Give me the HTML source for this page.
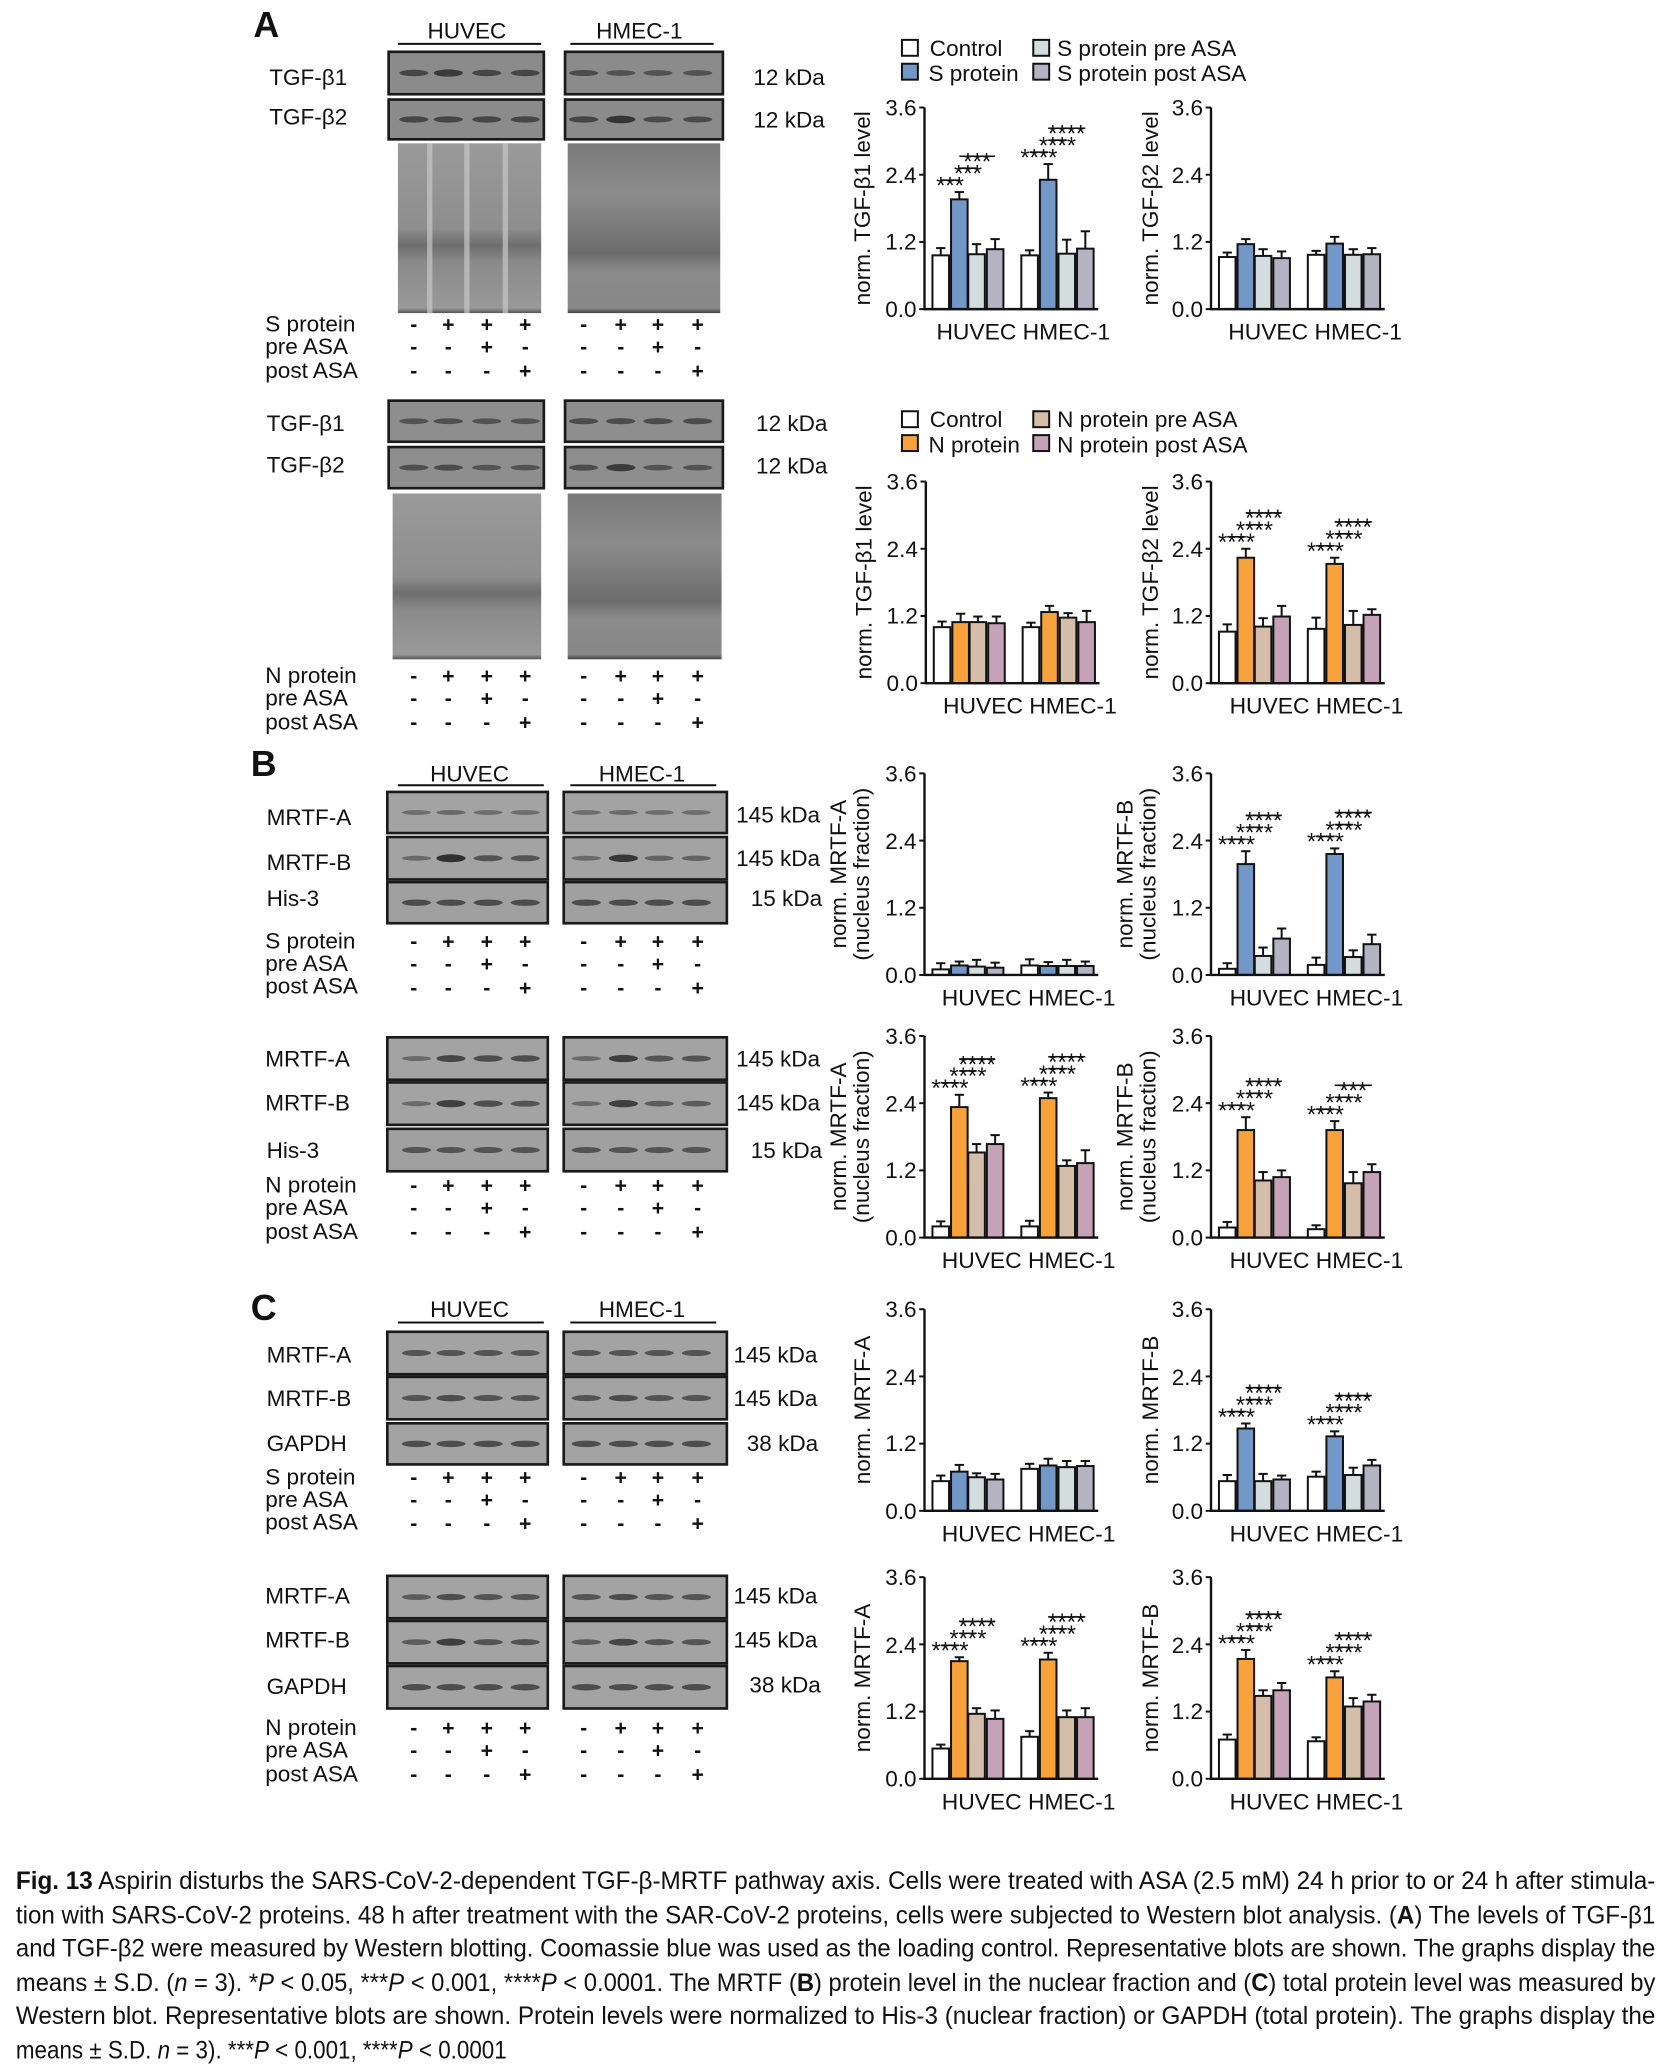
<!DOCTYPE html>
<html><head><meta charset="utf-8"><style>
html,body{margin:0;padding:0;background:#fff}
svg{display:block}
text{font-family:"Liberation Sans",Arial,sans-serif;fill:#111}
.t{font-size:17px}
.s{font-size:16px}
.cap{font-size:18.5px}
</style></head><body>
<svg id="fig" xmlns="http://www.w3.org/2000/svg" width="1658" height="2068" viewBox="0 0 1250 1559">
<defs>
<linearGradient id="cA" x1="0" y1="0" x2="0" y2="1">
<stop offset="0" stop-color="#9a9a9a"/><stop offset="0.5" stop-color="#8e8e8e"/><stop offset="0.6" stop-color="#6e6e6e"/><stop offset="0.7" stop-color="#8a8a8a"/><stop offset="0.97" stop-color="#999"/><stop offset="1" stop-color="#555"/></linearGradient>
<linearGradient id="cB" x1="0" y1="0" x2="0" y2="1">
<stop offset="0" stop-color="#7a7a7a"/><stop offset="0.3" stop-color="#8c8c8c"/><stop offset="0.65" stop-color="#6c6c6c"/><stop offset="0.75" stop-color="#8a8a8a"/><stop offset="0.97" stop-color="#888"/><stop offset="1" stop-color="#444"/></linearGradient>
</defs>
<g id="blots"></g>
<g id="charts"></g>

<text x="191" y="28" style="font-size:27px;font-weight:bold">A</text>
<text x="189" y="585" style="font-size:27px;font-weight:bold">B</text>
<text x="189" y="995" style="font-size:27px;font-weight:bold">C</text>

<g class="t">
<text x="352" y="29" text-anchor="middle">HUVEC</text>
<text x="482" y="29" text-anchor="middle">HMEC-1</text>
<text x="203" y="64">TGF-β1</text><text x="203" y="94">TGF-β2</text>
<text x="568" y="64">12 kDa</text><text x="568" y="96">12 kDa</text>
<text x="200" y="250">S protein</text><text x="200" y="267">pre ASA</text><text x="200" y="285">post ASA</text>
<text x="201" y="325">TGF-β1</text><text x="201" y="356">TGF-β2</text>
<text x="570" y="325">12 kDa</text><text x="570" y="357">12 kDa</text>
<text x="200" y="515">N protein</text><text x="200" y="532">pre ASA</text><text x="200" y="550">post ASA</text>
<text x="354" y="589" text-anchor="middle">HUVEC</text>
<text x="484" y="589" text-anchor="middle">HMEC-1</text>
<text x="201" y="622">MRTF-A</text><text x="201" y="656">MRTF-B</text><text x="201" y="683">His-3</text>
<text x="555" y="620">145 kDa</text><text x="555" y="653">145 kDa</text><text x="566" y="683">15 kDa</text>
<text x="200" y="715">S protein</text><text x="200" y="732">pre ASA</text><text x="200" y="749">post ASA</text>
<text x="200" y="804">MRTF-A</text><text x="200" y="837">MRTF-B</text><text x="201" y="873">His-3</text>
<text x="555" y="804">145 kDa</text><text x="555" y="837">145 kDa</text><text x="566" y="873">15 kDa</text>
<text x="200" y="899">N protein</text><text x="200" y="916">pre ASA</text><text x="200" y="934">post ASA</text>
<text x="354" y="993" text-anchor="middle">HUVEC</text>
<text x="484" y="993" text-anchor="middle">HMEC-1</text>
<text x="201" y="1027">MRTF-A</text><text x="201" y="1060">MRTF-B</text><text x="201" y="1094">GAPDH</text>
<text x="553" y="1027">145 kDa</text><text x="553" y="1060">145 kDa</text><text x="563" y="1094">38 kDa</text>
<text x="200" y="1119">S protein</text><text x="200" y="1136">pre ASA</text><text x="200" y="1153">post ASA</text>
<text x="200" y="1209">MRTF-A</text><text x="200" y="1242">MRTF-B</text><text x="201" y="1277">GAPDH</text>
<text x="553" y="1209">145 kDa</text><text x="553" y="1242">145 kDa</text><text x="565" y="1276">38 kDa</text>
<text x="200" y="1308">N protein</text><text x="200" y="1325">pre ASA</text><text x="200" y="1343">post ASA</text>
</g>
<g stroke="#111" stroke-width="1.5">
<line x1="300" y1="33" x2="408" y2="33"/><line x1="430" y1="33" x2="538" y2="33"/>
<line x1="300" y1="592" x2="410" y2="592"/><line x1="430" y1="592" x2="540" y2="592"/>
<line x1="300" y1="997" x2="410" y2="997"/><line x1="430" y1="997" x2="540" y2="997"/>
</g>

<g class="s" text-anchor="middle" style="font-weight:bold">
<g>
<text x="312" y="250">-</text><text x="338" y="250">+</text><text x="367" y="250">+</text><text x="396" y="250">+</text>
<text x="440" y="250">-</text><text x="468" y="250">+</text><text x="496" y="250">+</text><text x="526" y="250">+</text>
<text x="312" y="267">-</text><text x="338" y="267">-</text><text x="367" y="267">+</text><text x="396" y="267">-</text>
<text x="440" y="267">-</text><text x="468" y="267">-</text><text x="496" y="267">+</text><text x="526" y="267">-</text>
<text x="312" y="285">-</text><text x="338" y="285">-</text><text x="367" y="285">-</text><text x="396" y="285">+</text>
<text x="440" y="285">-</text><text x="468" y="285">-</text><text x="496" y="285">-</text><text x="526" y="285">+</text>
</g>
<g transform="translate(0,265)">
<text x="312" y="250">-</text><text x="338" y="250">+</text><text x="367" y="250">+</text><text x="396" y="250">+</text>
<text x="440" y="250">-</text><text x="468" y="250">+</text><text x="496" y="250">+</text><text x="526" y="250">+</text>
<text x="312" y="267">-</text><text x="338" y="267">-</text><text x="367" y="267">+</text><text x="396" y="267">-</text>
<text x="440" y="267">-</text><text x="468" y="267">-</text><text x="496" y="267">+</text><text x="526" y="267">-</text>
<text x="312" y="285">-</text><text x="338" y="285">-</text><text x="367" y="285">-</text><text x="396" y="285">+</text>
<text x="440" y="285">-</text><text x="468" y="285">-</text><text x="496" y="285">-</text><text x="526" y="285">+</text>
</g>
<g transform="translate(0,465)">
<text x="312" y="250">-</text><text x="338" y="250">+</text><text x="367" y="250">+</text><text x="396" y="250">+</text>
<text x="440" y="250">-</text><text x="468" y="250">+</text><text x="496" y="250">+</text><text x="526" y="250">+</text>
<text x="312" y="267">-</text><text x="338" y="267">-</text><text x="367" y="267">+</text><text x="396" y="267">-</text>
<text x="440" y="267">-</text><text x="468" y="267">-</text><text x="496" y="267">+</text><text x="526" y="267">-</text>
<text x="312" y="285">-</text><text x="338" y="285">-</text><text x="367" y="285">-</text><text x="396" y="285">+</text>
<text x="440" y="285">-</text><text x="468" y="285">-</text><text x="496" y="285">-</text><text x="526" y="285">+</text>
</g>
<g transform="translate(0,649)">
<text x="312" y="250">-</text><text x="338" y="250">+</text><text x="367" y="250">+</text><text x="396" y="250">+</text>
<text x="440" y="250">-</text><text x="468" y="250">+</text><text x="496" y="250">+</text><text x="526" y="250">+</text>
<text x="312" y="267">-</text><text x="338" y="267">-</text><text x="367" y="267">+</text><text x="396" y="267">-</text>
<text x="440" y="267">-</text><text x="468" y="267">-</text><text x="496" y="267">+</text><text x="526" y="267">-</text>
<text x="312" y="285">-</text><text x="338" y="285">-</text><text x="367" y="285">-</text><text x="396" y="285">+</text>
<text x="440" y="285">-</text><text x="468" y="285">-</text><text x="496" y="285">-</text><text x="526" y="285">+</text>
</g>
<g transform="translate(0,869)">
<text x="312" y="250">-</text><text x="338" y="250">+</text><text x="367" y="250">+</text><text x="396" y="250">+</text>
<text x="440" y="250">-</text><text x="468" y="250">+</text><text x="496" y="250">+</text><text x="526" y="250">+</text>
<text x="312" y="267">-</text><text x="338" y="267">-</text><text x="367" y="267">+</text><text x="396" y="267">-</text>
<text x="440" y="267">-</text><text x="468" y="267">-</text><text x="496" y="267">+</text><text x="526" y="267">-</text>
<text x="312" y="285">-</text><text x="338" y="285">-</text><text x="367" y="285">-</text><text x="396" y="285">+</text>
<text x="440" y="285">-</text><text x="468" y="285">-</text><text x="496" y="285">-</text><text x="526" y="285">+</text>
</g>
<g transform="translate(0,1058)">
<text x="312" y="250">-</text><text x="338" y="250">+</text><text x="367" y="250">+</text><text x="396" y="250">+</text>
<text x="440" y="250">-</text><text x="468" y="250">+</text><text x="496" y="250">+</text><text x="526" y="250">+</text>
<text x="312" y="267">-</text><text x="338" y="267">-</text><text x="367" y="267">+</text><text x="396" y="267">-</text>
<text x="440" y="267">-</text><text x="468" y="267">-</text><text x="496" y="267">+</text><text x="526" y="267">-</text>
<text x="312" y="285">-</text><text x="338" y="285">-</text><text x="367" y="285">-</text><text x="396" y="285">+</text>
<text x="440" y="285">-</text><text x="468" y="285">-</text><text x="496" y="285">-</text><text x="526" y="285">+</text>
</g>
</g>

<g class="t">
<rect x="680" y="30" width="12" height="12" fill="#fff" stroke="#111" stroke-width="1.5"/>
<rect x="680" y="48" width="12" height="12" fill="#7397c6" stroke="#111" stroke-width="1.5"/>
<rect x="779" y="30" width="12" height="12" fill="#d3dde0" stroke="#111" stroke-width="1.5"/>
<rect x="779" y="48" width="12" height="12" fill="#b3b3c3" stroke="#111" stroke-width="1.5"/>
<text x="701" y="42">Control</text><text x="700" y="61">S protein</text>
<text x="797" y="42">S protein pre ASA</text><text x="797" y="61">S protein post ASA</text>
<rect x="680" y="310" width="12" height="12" fill="#fff" stroke="#111" stroke-width="1.5"/>
<rect x="680" y="328" width="12" height="12" fill="#f7a23b" stroke="#111" stroke-width="1.5"/>
<rect x="779" y="310" width="12" height="12" fill="#d4bea9" stroke="#111" stroke-width="1.5"/>
<rect x="779" y="328" width="12" height="12" fill="#c5a2b8" stroke="#111" stroke-width="1.5"/>
<text x="701" y="322">Control</text><text x="700" y="341">N protein</text>
<text x="797" y="322">N protein pre ASA</text><text x="797" y="341">N protein post ASA</text>
</g>

<g class="t">
<g transform="translate(697,233)"><text x="-6" y="6" text-anchor="end">0.0</text><text x="-6" y="-45" text-anchor="end">1.2</text><text x="-6" y="-95" text-anchor="end">2.4</text><text x="-6" y="-146" text-anchor="end">3.6</text><text x="9" y="23" textLength="131" lengthAdjust="spacingAndGlyphs">HUVEC HMEC-1</text><text transform="translate(-41,-76) rotate(-90)" text-anchor="middle">norm. TGF-β1 level</text></g>
<g transform="translate(913,233)"><text x="-6" y="6" text-anchor="end">0.0</text><text x="-6" y="-45" text-anchor="end">1.2</text><text x="-6" y="-95" text-anchor="end">2.4</text><text x="-6" y="-146" text-anchor="end">3.6</text><text x="13" y="23" textLength="131" lengthAdjust="spacingAndGlyphs">HUVEC HMEC-1</text><text transform="translate(-40,-76) rotate(-90)" text-anchor="middle">norm. TGF-β2 level</text></g>
<g transform="translate(698,515)"><text x="-6" y="6" text-anchor="end">0.0</text><text x="-6" y="-45" text-anchor="end">1.2</text><text x="-6" y="-95" text-anchor="end">2.4</text><text x="-6" y="-146" text-anchor="end">3.6</text><text x="13" y="23" textLength="131" lengthAdjust="spacingAndGlyphs">HUVEC HMEC-1</text><text transform="translate(-41,-76) rotate(-90)" text-anchor="middle">norm. TGF-β1 level</text></g>
<g transform="translate(913,515)"><text x="-6" y="6" text-anchor="end">0.0</text><text x="-6" y="-45" text-anchor="end">1.2</text><text x="-6" y="-95" text-anchor="end">2.4</text><text x="-6" y="-146" text-anchor="end">3.6</text><text x="14" y="23" textLength="131" lengthAdjust="spacingAndGlyphs">HUVEC HMEC-1</text><text transform="translate(-40,-76) rotate(-90)" text-anchor="middle">norm. TGF-β2 level</text></g>
<g transform="translate(697,735)"><text x="-6" y="6" text-anchor="end">0.0</text><text x="-6" y="-45" text-anchor="end">1.2</text><text x="-6" y="-95" text-anchor="end">2.4</text><text x="-6" y="-146" text-anchor="end">3.6</text><text x="13" y="23" textLength="131" lengthAdjust="spacingAndGlyphs">HUVEC HMEC-1</text><text transform="translate(-59,-76) rotate(-90)" text-anchor="middle">norm. MRTF-A</text><text transform="translate(-42,-76) rotate(-90)" text-anchor="middle">(nucleus fraction)</text></g>
<g transform="translate(913,735)"><text x="-6" y="6" text-anchor="end">0.0</text><text x="-6" y="-45" text-anchor="end">1.2</text><text x="-6" y="-95" text-anchor="end">2.4</text><text x="-6" y="-146" text-anchor="end">3.6</text><text x="14" y="23" textLength="131" lengthAdjust="spacingAndGlyphs">HUVEC HMEC-1</text><text transform="translate(-59,-76) rotate(-90)" text-anchor="middle">norm. MRTF-B</text><text transform="translate(-42,-76) rotate(-90)" text-anchor="middle">(nucleus fraction)</text></g>
<g transform="translate(697,933)"><text x="-6" y="6" text-anchor="end">0.0</text><text x="-6" y="-45" text-anchor="end">1.2</text><text x="-6" y="-95" text-anchor="end">2.4</text><text x="-6" y="-146" text-anchor="end">3.6</text><text x="13" y="23" textLength="131" lengthAdjust="spacingAndGlyphs">HUVEC HMEC-1</text><text transform="translate(-59,-76) rotate(-90)" text-anchor="middle">norm. MRTF-A</text><text transform="translate(-42,-76) rotate(-90)" text-anchor="middle">(nucleus fraction)</text></g>
<g transform="translate(913,933)"><text x="-6" y="6" text-anchor="end">0.0</text><text x="-6" y="-45" text-anchor="end">1.2</text><text x="-6" y="-95" text-anchor="end">2.4</text><text x="-6" y="-146" text-anchor="end">3.6</text><text x="14" y="23" textLength="131" lengthAdjust="spacingAndGlyphs">HUVEC HMEC-1</text><text transform="translate(-59,-76) rotate(-90)" text-anchor="middle">norm. MRTF-B</text><text transform="translate(-42,-76) rotate(-90)" text-anchor="middle">(nucleus fraction)</text></g>
<g transform="translate(697,1139)"><text x="-6" y="6" text-anchor="end">0.0</text><text x="-6" y="-45" text-anchor="end">1.2</text><text x="-6" y="-95" text-anchor="end">2.4</text><text x="-6" y="-146" text-anchor="end">3.6</text><text x="13" y="23" textLength="131" lengthAdjust="spacingAndGlyphs">HUVEC HMEC-1</text><text transform="translate(-41,-76) rotate(-90)" text-anchor="middle">norm. MRTF-A</text></g>
<g transform="translate(913,1139)"><text x="-6" y="6" text-anchor="end">0.0</text><text x="-6" y="-45" text-anchor="end">1.2</text><text x="-6" y="-95" text-anchor="end">2.4</text><text x="-6" y="-146" text-anchor="end">3.6</text><text x="14" y="23" textLength="131" lengthAdjust="spacingAndGlyphs">HUVEC HMEC-1</text><text transform="translate(-40,-76) rotate(-90)" text-anchor="middle">norm. MRTF-B</text></g>
<g transform="translate(697,1341)"><text x="-6" y="6" text-anchor="end">0.0</text><text x="-6" y="-45" text-anchor="end">1.2</text><text x="-6" y="-95" text-anchor="end">2.4</text><text x="-6" y="-146" text-anchor="end">3.6</text><text x="13" y="23" textLength="131" lengthAdjust="spacingAndGlyphs">HUVEC HMEC-1</text><text transform="translate(-41,-76) rotate(-90)" text-anchor="middle">norm. MRTF-A</text></g>
<g transform="translate(913,1341)"><text x="-6" y="6" text-anchor="end">0.0</text><text x="-6" y="-45" text-anchor="end">1.2</text><text x="-6" y="-95" text-anchor="end">2.4</text><text x="-6" y="-146" text-anchor="end">3.6</text><text x="14" y="23" textLength="131" lengthAdjust="spacingAndGlyphs">HUVEC HMEC-1</text><text transform="translate(-40,-76) rotate(-90)" text-anchor="middle">norm. MRTF-B</text></g>
</g>

<g class="cap">
<text x="12" y="1424" textLength="1236" lengthAdjust="spacingAndGlyphs"><tspan font-weight="bold">Fig. 13</tspan>  Aspirin disturbs the SARS-CoV-2-dependent TGF-β-MRTF pathway axis. Cells were treated with ASA (2.5 mM) 24 h prior to or 24 h after stimula-</text>
<text x="12" y="1450" textLength="1236" lengthAdjust="spacingAndGlyphs">tion with SARS-CoV-2 proteins. 48 h after treatment with the SAR-CoV-2 proteins, cells were subjected to Western blot analysis. (<tspan font-weight="bold">A</tspan>) The levels of TGF-β1</text>
<text x="12" y="1475" textLength="1236" lengthAdjust="spacingAndGlyphs">and TGF-β2 were measured by Western blotting. Coomassie blue was used as the loading control. Representative blots are shown. The graphs display the</text>
<text x="12" y="1501" textLength="1236" lengthAdjust="spacingAndGlyphs">means ± S.D. (<tspan font-style="italic">n</tspan> = 3). *<tspan font-style="italic">P</tspan> &lt; 0.05, ***<tspan font-style="italic">P</tspan> &lt; 0.001, ****<tspan font-style="italic">P</tspan> &lt; 0.0001. The MRTF (<tspan font-weight="bold">B</tspan>) protein level in the nuclear fraction and (<tspan font-weight="bold">C</tspan>) total protein level was measured by</text>
<text x="12" y="1526" textLength="1236" lengthAdjust="spacingAndGlyphs">Western blot. Representative blots are shown. Protein levels were normalized to His-3 (nuclear fraction) or GAPDH (total protein). The graphs display the</text>
<text x="12" y="1552" textLength="370" lengthAdjust="spacingAndGlyphs">means ± S.D. <tspan font-style="italic">n</tspan> = 3). ***<tspan font-style="italic">P</tspan> &lt; 0.001, ****<tspan font-style="italic">P</tspan> &lt; 0.0001</text>
</g>
</svg>
<script>
(function(){
var NS="http://www.w3.org/2000/svg";
function el(p,n,a,txt){var e=document.createElementNS(NS,n);for(var k in a)e.setAttribute(k,a[k]);if(txt!=null)e.textContent=txt;p.appendChild(e);return e;}
var B=document.getElementById('blots'),C=document.getElementById('charts');
function box(x,y,w,h,fill){el(B,'rect',{x:x,y:y,width:w,height:h,fill:fill,stroke:'#1a1a1a','stroke-width':2});}
function bands(xs,y,ints,wd){for(var i=0;i<xs.length;i++){var a=ints[i];el(B,'ellipse',{cx:xs[i],cy:y,rx:wd||11,ry:1.6+a*1.4,fill:'#2a2a2a',opacity:0.35+0.6*a});}}
var LA=[312,338,367,396],LB=[440,468,496,526],LC=[314,340,368,396],LD=[442,470,497,525];
function row(y,h,xL,wL,xR,wR,fill,lL,lR,iL,iR){box(xL,y,wL,h,fill);box(xR,y,wR,h,fill);bands(lL,y+h/2,iL);bands(lR,y+h/2,iR);}
row(39,32,293,117,426,119,'#8b8b8b',LA,LB,[.6,.8,.6,.6],[.5,.4,.4,.4]);
row(75,30,293,117,426,119,'#8b8b8b',LA,LB,[.6,.6,.6,.6],[.6,.9,.5,.5]);
el(B,'rect',{x:300,y:108,width:108,height:128,fill:'url(#cA)'});
[322,350,379].forEach(function(x){el(B,'rect',{x:x,y:108,width:4,height:128,fill:'#c8c8c8',opacity:.7});});
el(B,'rect',{x:428,y:108,width:115,height:128,fill:'url(#cB)'});
row(302,31,293,117,426,119,'#8e8e8e',LA,LB,[.4,.45,.4,.4],[.5,.5,.5,.5]);
row(337,31,293,117,426,119,'#8e8e8e',LA,LB,[.45,.5,.4,.4],[.5,.8,.4,.4]);
el(B,'rect',{x:296,y:372,width:112,height:125,fill:'url(#cA)'});
el(B,'rect',{x:428,y:372,width:116,height:125,fill:'url(#cB)'});
row(597,31,292,121,425,123,'#a3a3a3',LC,LD,[.15,.2,.15,.15],[.15,.2,.15,.15]);
row(631,32,292,121,425,123,'#a3a3a3',LC,LD,[.2,1,.5,.5],[.2,.9,.3,.3]);
row(665,31,292,121,425,123,'#a0a0a0',LC,LD,[.6,.6,.6,.6],[.6,.6,.6,.6]);
row(782,32,292,121,425,123,'#a3a3a3',LC,LD,[.2,.7,.6,.6],[.2,.8,.5,.5]);
row(816,32,292,121,425,123,'#a3a3a3',LC,LD,[.2,.8,.6,.5],[.2,.8,.4,.4]);
row(851,32,292,121,425,123,'#a0a0a0',LC,LD,[.5,.5,.5,.5],[.5,.5,.5,.5]);
row(1004,32,292,121,425,123,'#a3a3a3',LC,LD,[.5,.5,.5,.5],[.5,.5,.5,.5]);
row(1038,32,292,121,425,123,'#a3a3a3',LC,LD,[.5,.6,.5,.5],[.5,.6,.5,.5]);
row(1073,31,292,121,425,123,'#a3a3a3',LC,LD,[.6,.6,.6,.6],[.6,.6,.6,.6]);
row(1188,32,292,121,425,123,'#a3a3a3',LC,LD,[.4,.6,.5,.5],[.5,.6,.5,.5]);
row(1222,32,292,121,425,123,'#a3a3a3',LC,LD,[.4,.8,.5,.5],[.4,.7,.5,.5]);
row(1256,32,292,121,425,123,'#a3a3a3',LC,LD,[.6,.6,.6,.6],[.6,.6,.6,.6]);
var S=['#fff','#7397c6','#d3dde0','#b3b3c3'],N=['#fff','#f7a23b','#d4bea9','#c5a2b8'];
var OFF=[6,20,33,47,73,87,101,115],W=12.5,K=152/3.6;
var F=['****','****','****'],T=['***','***','***'];
var charts=[
[697,233,S,[.96,1.96,.98,1.07,.96,2.31,.99,1.08],[.13,.13,.18,.18,.09,.28,.25,.31],[T,F]],
[913,233,S,[.93,1.16,.95,.91,.97,1.17,.97,.98],[.08,.09,.12,.12,.07,.12,.1,.11],null],
[698,515,N,[1,1.09,1.09,1.07,1,1.27,1.17,1.09],[.1,.15,.1,.12,.08,.11,.08,.2],null],
[913,515,N,[.92,2.24,1.01,1.19,.97,2.13,1.04,1.22],[.13,.16,.15,.19,.2,.11,.25,.1],[F,F]],
[697,735,S,[.1,.17,.15,.13,.17,.16,.16,.16],[.11,.07,.12,.09,.11,.07,.11,.08],null],
[913,735,S,[.11,1.98,.34,.65,.18,2.16,.32,.55],[.1,.23,.15,.18,.13,.1,.12,.17],[F,F]],
[697,933,N,[.2,2.33,1.52,1.67,.2,2.49,1.28,1.33],[.09,.22,.15,.16,.1,.1,.1,.23],[F,F]],
[913,933,N,[.18,1.92,1.02,1.08,.15,1.92,.97,1.17],[.1,.23,.15,.12,.07,.16,.2,.14],[F,['****','****','***']]],
[697,1139,S,[.53,.7,.6,.56,.75,.81,.78,.8],[.1,.12,.07,.1,.09,.12,.11,.09],null],
[913,1139,S,[.53,1.47,.53,.56,.61,1.33,.64,.81],[.11,.09,.13,.07,.09,.09,.13,.1],[F,F]],
[697,1341,N,[.54,2.1,1.16,1.07,.75,2.13,1.1,1.1],[.07,.07,.1,.15,.1,.12,.12,.16],[F,F]],
[913,1341,N,[.7,2.14,1.48,1.58,.67,1.81,1.29,1.38],[.09,.16,.1,.13,.07,.11,.15,.12],[F,F]]
];
charts.forEach(function(c){
 var x0=c[0],y0=c[1],col=c[2],v=c[3],e=c[4],st=c[5];
 var g=el(C,'g',{transform:'translate('+x0+','+y0+')'});
 for(var i=0;i<8;i++){
  var cx=OFF[i]+W/2,top=-K*v[i],et=-K*(v[i]+e[i]);
  el(g,'line',{x1:cx,y1:top,x2:cx,y2:et,stroke:'#111','stroke-width':1.5});
  el(g,'line',{x1:cx-3.5,y1:et,x2:cx+3.5,y2:et,stroke:'#111','stroke-width':1.5});
  el(g,'rect',{x:OFF[i],y:top,width:W,height:K*v[i],fill:col[i%4],stroke:'#111','stroke-width':1.5});
 }
 el(g,'path',{d:'M0,-152 V0 H131',fill:'none',stroke:'#111','stroke-width':1.8});
 [0,1,2,3].forEach(function(j){var y=-K*1.2*j;el(g,'line',{x1:-4,y1:y,x2:0,y2:y,stroke:'#111','stroke-width':1.5});});
 if(st){for(var gi=0;gi<2;gi++){
  var b=gi*4,h1=-K*(v[b+1]+e[b+1])-9;
  var pairs=[[b,b+1,h1],[b+1,b+2,h1-9],[b+1,b+3,h1-18]];
  pairs.forEach(function(p,k){
   var xa=OFF[p[0]]+W/2,xb=OFF[p[1]]+W/2;
   el(g,'line',{x1:xa,y1:p[2],x2:xb,y2:p[2],stroke:'#111','stroke-width':1.2});
   el(g,'text',{x:(xa+xb)/2,y:p[2]+10,'text-anchor':'middle',style:'font-size:18px'},st[gi][k]);
  });
 }}
});
})();
</script>
</body></html>
